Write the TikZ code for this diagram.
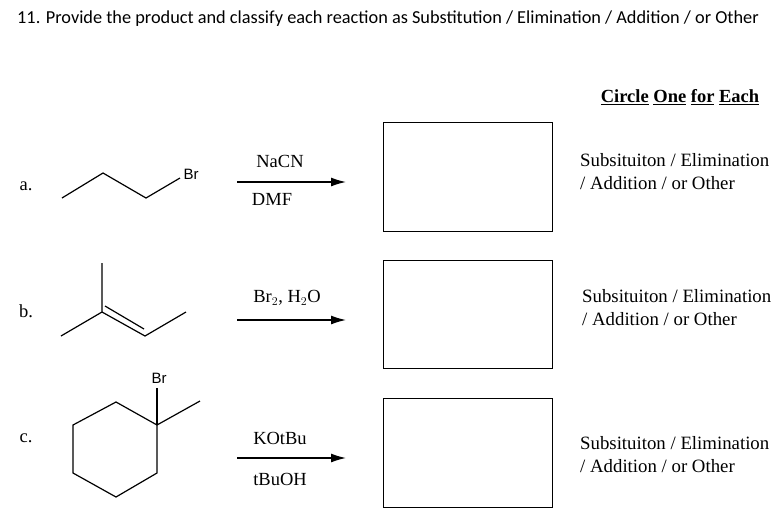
\documentclass[tikz,border=0pt]{standalone}
\usepackage{fontspec}
\setmainfont{Liberation Serif}
\setsansfont{Liberation Sans}
\newfontfamily\calib{Carlito}
\usetikzlibrary{arrows.meta}
\begin{document}
\begin{tikzpicture}[x=1pt,y=-1pt,
 bond/.style={line width=1.2pt},
 prodbox/.style={draw,line width=1pt},
 rarrow/.style={line width=1.3pt,-{Latex[length=15pt,width=9pt]}},
 txt/.style={font=\fontsize{18.5}{21}\selectfont,inner sep=0pt},
 ctxt/.style={font=\fontsize{18.8}{21}\selectfont,inner sep=0pt},
 lab/.style={font=\fontsize{15}{17}\selectfont\sffamily,inner sep=0pt}]
\useasboundingbox (0,0) rectangle (782,520);
\node[anchor=west,inner sep=0pt,font=\calib\fontsize{18.3}{22}\selectfont] (title) at (17,19) {11. Provide the product and classify each reaction as Substitution / Elimination / Addition / or Other};
\node[txt,font=\fontsize{18.5}{21}\selectfont\bfseries] (circ) at (680,97) {\underline{Circle} \underline{One} \underline{for} \underline{Each}};
% a
\node[txt] (la) at (26,186) {a.};
\draw[bond] (62,198) -- (103,173) -- (146,198) -- (180,178);
\node[lab] (bra) at (191,174) {Br};
\node[prodbox,minimum width=169,minimum height=109,anchor=north west] (boxa) at (383,122) {};
\coordinate (a1) at (237,182); \coordinate (a2) at (346,182);
\draw[rarrow] (a1) -- (a2);
\node[txt] (ra1) at (280,161) {NaCN};
\node[txt] (ra2) at (272,199) {DMF};
\node[ctxt,anchor=west] (ca1) at (580,160) {Subsituiton / Elimination};
\node[ctxt,anchor=west] (ca2) at (580,183) {/ Addition / or Other};
% b
\node[txt] (lb) at (26,311) {b.};
\draw[bond] (102,263) -- (102,312) -- (61,336);
\draw[bond] (102,312) -- (145,336) -- (186,312);
\draw[bond] (105,306) -- (144,329);
\node[prodbox,minimum width=169,minimum height=108,anchor=north west] (boxb) at (383,260) {};
\coordinate (b1) at (237,320); \coordinate (b2) at (346,320);
\draw[rarrow] (b1) -- (b2);
\node[txt] (rb1) at (287,298) {Br$_2$, H$_2$O};
\node[ctxt,anchor=west] (cb1) at (582,296) {Subsituiton / Elimination};
\node[ctxt,anchor=west] (cb2) at (582,319) {/ Addition / or Other};
% c
\node[txt] (lc) at (26,438) {c.};
\draw[bond] (157,425) -- (116,402) -- (73,425) -- (73,473) -- (116,497) -- (157,473) -- cycle;
\draw[bond] (157,425) -- (157,388);
\draw[bond] (157,425) -- (200,401);
\node[lab] (brc) at (159,378) {Br};
\node[prodbox,minimum width=169,minimum height=109,anchor=north west] (boxc) at (383,398) {};
\coordinate (c1) at (237,458); \coordinate (c2) at (346,458);
\draw[rarrow] (c1) -- (c2);
\node[txt] (rc1) at (280,438) {KOtBu};
\node[txt] (rc2) at (280,479) {tBuOH};
\node[ctxt,anchor=west] (cc1) at (580,443) {Subsituiton / Elimination};
\node[ctxt,anchor=west] (cc2) at (580,466) {/ Addition / or Other};
\end{tikzpicture}
\end{document}
